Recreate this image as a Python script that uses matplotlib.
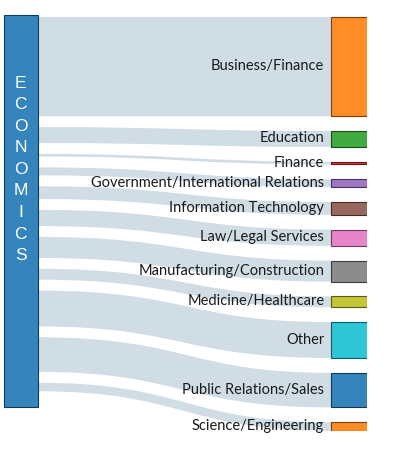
import matplotlib
matplotlib.use("Agg")
import matplotlib.pyplot as plt
from matplotlib.path import Path
from matplotlib.patches import PathPatch, Rectangle
from matplotlib.colors import to_rgb

# ---- data ----
source_name = "ECONOMICS"
targets = ["Business/Finance", "Education", "Finance",
           "Government/International Relations", "Information Technology",
           "Law/Legal Services", "Manufacturing/Construction",
           "Medicine/Healthcare", "Other", "Public Relations/Sales",
           "Science/Engineering"]
values = [37.3, 6.0, 1.0, 3.0, 4.8, 6.1, 7.9, 4.1, 13.5, 13.0, 3.2]
target_colors = ["#ff7f0e", "#2ca02c", "#d62728", "#9467bd", "#8c564b",
                 "#e377c2", "#7f7f7f", "#bcbd22", "#17becf", "#1f77b4",
                 "#ff7f0e"]
source_color = "#1f77b4"

# ---- layout constants (pixels) ----
W, H = 395, 452
clip_w, clip_h = 367, 432
top = 18.0
ky = 2.66
pad_target = 14.8
pad_source = 10.85
src_x0, src_x1 = 4.0, 37.7
tgt_x0, tgt_x1 = 331.3, 366.0 + 4
src_y0, src_y1 = 16.0, 408.0
link_color = "#d1dde5"


def fill(c, a=0.9):
    r, g, b = to_rgb(c)
    return (r * a + (1 - a), g * a + (1 - a), b * a + (1 - a))


def dark(c, k=2):
    f = 0.7 ** k
    r, g, b = to_rgb(c)
    return (r * f, g * f, b * f)


fig = plt.figure(figsize=(W / 100, H / 100), dpi=100)
ax = fig.add_axes([0, 0, 1, 1])
ax.set_xlim(0, W)
ax.set_ylim(H, 0)
ax.axis("off")

clip = Rectangle((0, 0), clip_w, clip_h, transform=ax.transData)
px2pt = 72 / 100

# links
ys = top
yt = top
for name, v, c in zip(targets, values, target_colors):
    w = v * ky
    sy = ys + w / 2
    ty = yt + w / 2
    xm = (src_x1 + tgt_x0) / 2
    path = Path([(src_x1, sy), (xm, sy), (xm, ty), (tgt_x0, ty)],
                [Path.MOVETO, Path.CURVE4, Path.CURVE4, Path.CURVE4])
    p = PathPatch(path, fill=False, edgecolor=link_color, linewidth=w * px2pt,
                  capstyle="butt", zorder=1)
    ax.add_patch(p)
    p.set_clip_path(clip)
    # target node
    r = Rectangle((tgt_x0, yt), tgt_x1 - tgt_x0, w, facecolor=fill(c),
                  edgecolor=dark(c), linewidth=0.8, zorder=3)
    ax.add_patch(r)
    r.set_clip_path(clip)
    ax.text(tgt_x0 - 7, yt + w / 2 + 2.5, name, ha="right", va="baseline",
            fontsize=10.5, family=["Lato", "DejaVu Sans"], color="#1a1a1a",
            zorder=4)
    ys += w + pad_source
    yt += w + pad_target

# source node
ax.add_patch(Rectangle((src_x0, src_y0), src_x1 - src_x0, src_y1 - src_y0,
                       facecolor=fill(source_color), edgecolor=dark(source_color),
                       linewidth=0.8, zorder=3))
letter_y0 = 83.0
letter_step = 21.6
for i, ch in enumerate(source_name):
    ax.text((src_x0 + src_x1) / 2, letter_y0 + i * letter_step, ch,
            ha="center", va="center", fontsize=12.5,
            family=["Liberation Sans", "DejaVu Sans"], color="white", zorder=4)

fig.savefig("out.png", dpi=100)
